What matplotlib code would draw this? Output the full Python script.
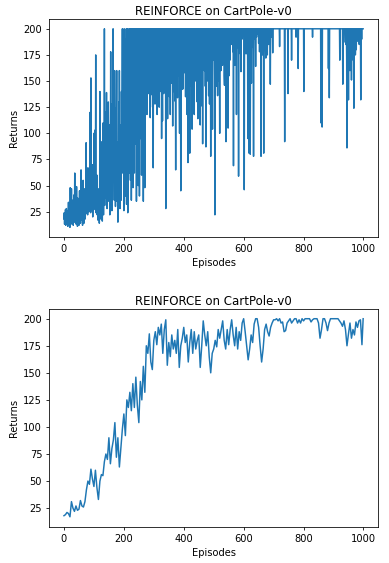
import numpy as np
import matplotlib
matplotlib.use('Agg')
import matplotlib.pyplot as plt

TITLE = 'REINFORCE on CartPole-v0'

# ── raw returns per episode ──────────────────────────────────────────────────
RETURNS = [
    18, 24, 13, 22, 15, 27, 12, 19, 28, 14, 21, 17, 26, 11, 20, 34, 13, 23, 16, 12,
    10, 48, 14, 30, 19, 47, 22, 13, 36, 18, 25, 12, 29, 41, 15, 20, 62, 17, 27, 14,
    22, 13, 49, 18, 27, 11, 38, 24, 16, 31, 12, 26, 45, 19, 33, 14, 28, 65, 21, 30,
    17, 36, 12, 24, 55, 20, 29, 14, 38, 26, 47, 18, 33, 23, 91, 26, 58, 35, 49, 22,
    67, 30, 44, 25, 56, 38, 28, 120, 42, 24, 153, 35, 61, 26, 48, 70, 20, 39, 55, 29,
    100, 33, 46, 103, 27, 38, 175, 24, 52, 31, 60, 22, 42, 17, 36, 28, 19, 47, 14, 33,
    140, 25, 58, 18, 80, 44, 29, 92, 16, 65, 37, 110, 22, 70, 45, 200, 31, 88, 54, 120,
    38, 95, 139, 62, 28, 125, 76, 48, 130, 92, 35, 108, 57, 22, 84, 66, 178, 40, 115, 72,
    26, 128, 95, 54, 200, 82, 118, 70, 36, 160, 98, 62, 30, 124, 48, 88, 160, 35, 76, 52,
    15, 92, 65, 130, 40, 160, 72, 28, 108, 58, 95, 36, 140, 82, 118, 200, 62, 150, 98, 88,
    26, 200, 120, 75, 145, 40, 190, 95, 200, 32, 160, 110, 200, 24, 178, 135, 88, 200, 62, 155,
    200, 98, 55, 170, 200, 36, 125, 200, 80, 200, 145, 48, 200, 112, 175, 62, 200, 138, 90, 200,
    160, 200, 35, 182, 118, 200, 72, 140, 50, 200, 115, 165, 40, 200, 128, 200, 95, 175, 200, 60,
    200, 148, 200, 110, 200, 35, 185, 200, 126, 200, 48, 200, 155, 200, 200, 172, 200, 118, 200, 200,
    160, 200, 200, 138, 200, 200, 175, 200, 115, 200, 200, 150, 200, 137, 180, 200, 125, 200, 67, 200,
    200, 185, 150, 200, 128, 200, 172, 200, 162, 135, 200, 118, 200, 190, 145, 200, 168, 200, 125, 200,
    200, 160, 140, 200, 182, 200, 95, 200, 155, 112, 200, 175, 200, 138, 200, 200, 188, 200, 200, 200,
    28, 200, 200, 165, 115, 200, 114, 200, 180, 170, 200, 145, 135, 200, 185, 118, 200, 160, 200, 148,
    200, 175, 200, 107, 200, 140, 155, 200, 188, 200, 131, 200, 170, 65, 200, 150, 152, 200, 180, 134,
    200, 165, 200, 155, 200, 130, 100, 200, 178, 200, 45, 200, 160, 200, 165, 200, 142, 200, 143, 200,
    200, 185, 158, 200, 170, 200, 135, 200, 200, 155, 200, 118, 200, 175, 72, 200, 148, 132, 200, 190,
    81, 200, 170, 145, 200, 200, 160, 200, 104, 200, 185, 200, 160, 200, 140, 118, 200, 175, 150, 200,
    200, 155, 200, 165, 200, 130, 200, 114, 200, 180, 200, 142, 200, 170, 200, 108, 200, 126, 150, 200,
    200, 170, 200, 90, 200, 200, 185, 200, 200, 160, 178, 200, 145, 200, 87, 200, 175, 200, 150, 160,
    200, 185, 200, 136, 200, 165, 128, 200, 150, 200, 78, 200, 140, 115, 200, 160, 104, 200, 175, 170,
    200, 180, 200, 155, 22, 200, 170, 200, 145, 200, 162, 200, 188, 136, 200, 175, 200, 150, 200, 170,
    100, 200, 175, 200, 160, 178, 200, 200, 185, 165, 200, 200, 200, 170, 200, 155, 146, 200, 180, 200,
    200, 92, 200, 160, 200, 175, 200, 150, 105, 200, 180, 155, 200, 200, 170, 200, 185, 200, 185, 200,
    200, 200, 185, 200, 178, 200, 69, 200, 190, 200, 165, 200, 172, 200, 185, 200, 118, 200, 192, 200,
    200, 182, 200, 59, 200, 188, 200, 195, 200, 176, 200, 159, 200, 200, 190, 200, 200, 200, 200, 194,
    200, 200, 46, 200, 185, 200, 192, 200, 176, 200, 180, 200, 200, 188, 95, 200, 172, 200, 81, 200,
    200, 185, 80, 200, 192, 200, 148, 200, 183, 200, 195, 200, 178, 78, 200, 190, 200, 200, 200, 200,
    164, 200, 200, 192, 200, 200, 200, 195, 197, 200, 186, 200, 200, 178, 200, 200, 190, 200, 78, 200,
    200, 192, 200, 175, 200, 186, 200, 81, 200, 200, 195, 200, 200, 188, 172, 200, 200, 192, 200, 175,
    200, 195, 200, 185, 200, 200, 190, 200, 200, 147, 200, 200, 192, 200, 200, 200, 200, 177, 200, 200,
    200, 200, 200, 200, 200, 200, 200, 200, 200, 200, 200, 200, 200, 200, 200, 200, 200, 200, 200, 200,
    183, 200, 200, 200, 200, 200, 200, 200, 200, 200, 200, 200, 200, 200, 200, 200, 200, 92, 200, 200,
    200, 200, 200, 200, 200, 200, 200, 200, 138, 200, 200, 200, 200, 200, 200, 200, 200, 200, 200, 200,
    170, 200, 200, 200, 200, 200, 200, 200, 200, 200, 200, 200, 200, 200, 200, 192, 200, 200, 200, 200,
    200, 200, 162, 200, 200, 200, 200, 200, 200, 200, 200, 200, 200, 200, 200, 200, 200, 200, 200, 200,
    200, 140, 200, 200, 200, 200, 200, 200, 200, 200, 200, 200, 200, 200, 200, 200, 200, 200, 200, 200,
    200, 200, 200, 200, 200, 200, 200, 200, 200, 200, 192, 200, 200, 200, 200, 200, 200, 200, 200, 200,
    200, 200, 200, 200, 200, 200, 200, 200, 200, 200, 200, 200, 200, 200, 200, 200, 200, 200, 110, 200,
    200, 200, 106, 200, 200, 200, 200, 200, 200, 200, 200, 200, 200, 200, 200, 200, 200, 200, 200, 200,
    200, 200, 200, 162, 200, 200, 134, 200, 200, 200, 200, 200, 200, 200, 200, 200, 200, 200, 200, 200,
    200, 200, 200, 200, 200, 200, 200, 200, 200, 200, 200, 200, 200, 200, 200, 200, 200, 200, 200, 200,
    200, 170, 200, 200, 200, 200, 200, 200, 200, 200, 200, 147, 200, 200, 187, 200, 200, 200, 200, 200,
    200, 185, 200, 200, 170, 86, 200, 180, 195, 200, 132, 200, 190, 175, 200, 160, 200, 188, 200, 200,
    151, 200, 182, 195, 200, 190, 170, 200, 124, 200, 188, 178, 200, 175, 185, 200, 180, 200, 193, 200,
    200, 190, 188, 200, 200, 196, 185, 200, 200, 200, 200, 132, 200, 200, 190, 200, 200, 200, 200, 200,
]

# ── smoothed returns (every 5 episodes + last) ────
SMOOTH_EPISODES = list(range(0, 1000, 5)) + [999]
SMOOTH_RETURNS = [
    18, 19, 21, 20, 17, 31, 25, 22, 27, 23,
    24, 32, 27, 26, 31, 42, 50, 47, 61, 52,
    45, 60, 44, 33, 50, 56, 55, 68, 75, 70,
    90, 66, 80, 88, 104, 72, 90, 63, 80, 98,
    112, 92, 125, 118, 132, 115, 140, 118, 146, 120,
    104, 142, 125, 156, 132, 175, 168, 186, 160, 153,
    180, 188, 176, 192, 185, 195, 168, 190, 199, 157,
    178, 165, 185, 172, 180, 168, 190, 155, 175, 182,
    192, 178, 185, 160, 178, 190, 168, 188, 172, 180,
    185, 155, 175, 198, 185, 175, 188, 165, 150, 168,
    172, 180, 174, 190, 182, 190, 198, 180, 172, 190,
    176, 190, 199, 185, 175, 192, 172, 188, 180, 196,
    200, 188, 175, 162, 172, 185, 178, 195, 200, 200,
    192, 175, 160, 172, 190, 195, 188, 184, 192, 196,
    199, 199, 200, 198, 200, 196, 197, 188, 189, 196,
    198, 200, 196, 198, 200, 200, 196, 199, 196, 200,
    198, 200, 200, 200, 200, 197, 199, 200, 200, 200,
    196, 182, 190, 200, 200, 196, 189, 196, 200, 200,
    200, 200, 200, 200, 198, 196, 193, 198, 190, 175,
    186, 196, 182, 190, 185, 197, 192, 198, 199, 176,
    200,
]

episodes = np.arange(len(RETURNS))

# reference looks like two 6x4 notebook figures, shrunk slightly to fit 389 px
DPI = 70.8
fig = plt.figure(figsize=(389 / DPI, 563 / DPI), dpi=DPI)

ax1 = fig.add_axes([0.126, 0.5785, 0.846, 0.388])
ax1.plot(episodes, RETURNS)
ax1.set_xlabel('Episodes')
ax1.set_ylabel('Returns')
ax1.set_title(TITLE, pad=4)

ax2 = fig.add_axes([0.126, 0.0645, 0.846, 0.387])
ax2.plot(SMOOTH_EPISODES, SMOOTH_RETURNS)
ax2.set_xlabel('Episodes')
ax2.set_ylabel('Returns')
ax2.set_title(TITLE, pad=4)

fig.savefig('out.png', dpi=DPI)
